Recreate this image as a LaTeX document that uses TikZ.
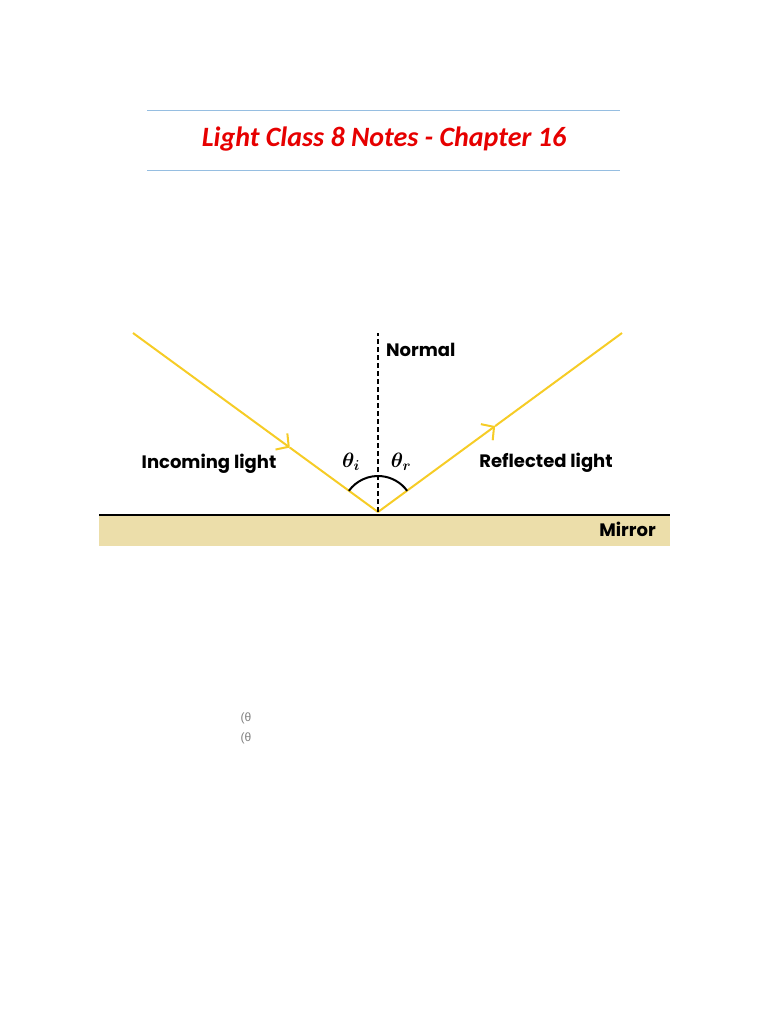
\documentclass[tikz,border=0pt]{standalone}
\usepackage{amsmath,bm}
\usepackage{fontspec}
\setmainfont{Carlito}
\newfontfamily\diagfont{Poppins}
\newfontfamily\strayfont{Liberation Sans}
\usetikzlibrary{arrows.meta,positioning,calc}
\definecolor{ray}{RGB}{246,204,38}
\definecolor{glass}{RGB}{236,222,170}
\definecolor{rule}{RGB}{150,190,225}
\definecolor{titlered}{RGB}{230,0,0}
\begin{document}
\begin{tikzpicture}[
    x=1pt, y=-1pt,
    beam/.style={ray, line width=2pt},
    label/.style={font=\diagfont\bfseries\fontsize{18}{20}\selectfont, inner sep=0pt},
    theta/.style={font=\fontsize{21}{23}\selectfont, inner sep=0pt}
]
    \useasboundingbox (0,0) rectangle (768,1024);

    % Title
    \draw[rule] (147,110) -- (620,110);
    \draw[rule] (147,170) -- (620,170);
    \node (title) [font=\fontsize{28}{30}\selectfont\bfseries\itshape, text=titlered] at (384,139) {Light Class 8 Notes - Chapter 16};

    % Mirror
    \fill[glass] (99,515) rectangle (670,546);
    \draw[line width=2.5pt] (99,515) -- (670,515);
    \node (mirror) [label, anchor=east] at (656,529) {Mirror};

    % Rays
    \coordinate (hit) at (378,512);
    \coordinate (src) at (133,333);
    \coordinate (dst) at (622,333);
    \coordinate (inmid) at ($(src)!0.64!(hit)$);
    \coordinate (outmid) at ($(hit)!0.48!(dst)$);
    \draw[beam, -{Straight Barb[length=9pt,width=20pt]}] (src) -- (inmid);
    \draw[beam] (inmid) -- (hit);
    \draw[beam, -{Straight Barb[length=9pt,width=20pt]}] (hit) -- (outmid);
    \draw[beam] (outmid) -- (dst);

    % Normal and angles
    \coordinate (top) at (378,333);
    \draw[line width=2pt, dash pattern=on 5pt off 3pt] (hit) -- (top);
    \draw[line width=2pt] ($(hit)+(-144:36)$) arc[start angle=-144, end angle=-36, radius=36];
    \node (normal) [label, anchor=west] at (386,350) {Normal};
    \node (incoming) [label] at (209,464) {Incoming light};
    \node (reflected) [label] at (546,463) {Reflected light};
    \node (ti) [theta] at (351,462) {$\bm{\theta_i}$};
    \node (tr) [theta] at (401,462) {$\bm{\theta_r}$};

    % Stray text
    \node (a) [font=\strayfont\fontsize{12}{13}\selectfont, text=gray] at (246,718) {(θ};
    \node (b) [font=\strayfont\fontsize{12}{13}\selectfont, text=gray] at (246,738) {(θ};
\end{tikzpicture}
\end{document}
